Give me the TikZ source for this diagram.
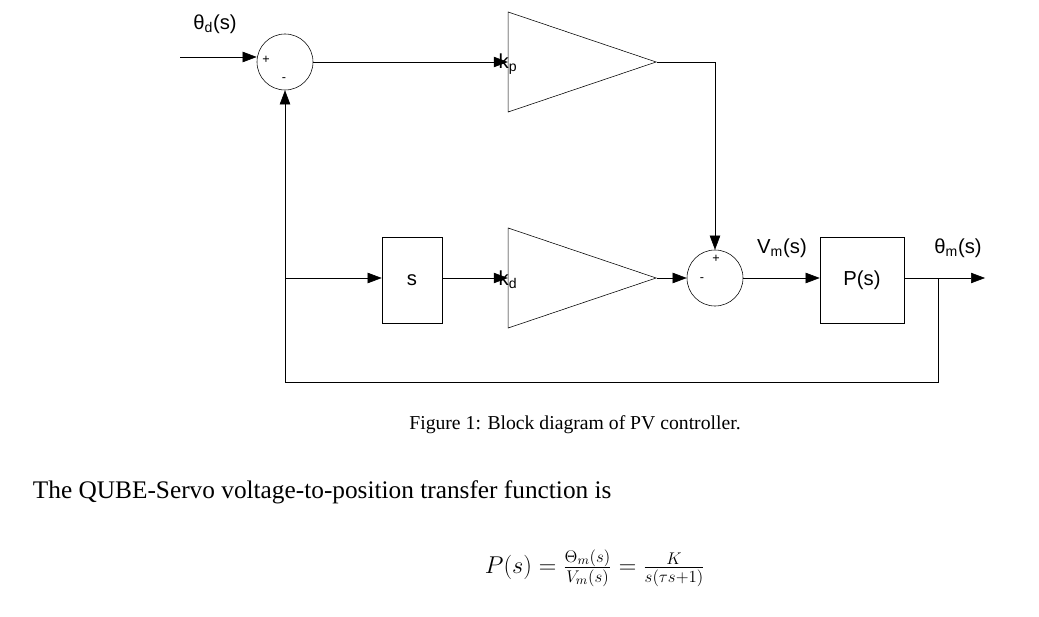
\documentclass[tikz,border=0pt]{standalone}
\usepackage{amsmath}
\usepackage{fontspec}
\setmainfont{Liberation Serif}
\newfontfamily\diagfont{Liberation Sans}
\usetikzlibrary{arrows.meta,shapes.geometric}

\tikzset{
  sumjct/.style={circle,draw,minimum size=1.4cm,inner sep=0pt},
  gain/.style={isosceles triangle,draw,isosceles triangle stretches,minimum width=2.5cm,minimum height=3.7cm,inner sep=0pt},
  blk/.style={rectangle,draw,minimum width=1.5cm,minimum height=2.15cm,font=\diagfont\Large},
  sig/.style={-{Triangle[length=3.5mm,width=2.6mm]}},
  lbl/.style={font=\diagfont\Large}
}

\begin{document}
\begin{tikzpicture}[x=0.025cm,y=-0.025cm]
  \useasboundingbox (0,0) rectangle (1039,617);
  % blocks
  \node[sumjct] (sumA) at (285,62) {};
  \node[sumjct] (sumB) at (715,278) {};
  \node[gain] (kp) at (544,62) {};
  \node[gain] (kd) at (544,278) {};
  \node[lbl] at (508,64) {k\textsubscript{p}};
  \node[lbl] at (508,280) {k\textsubscript{d}};
  \node[blk] (diff) at (412,280) {s};
  \node[blk,minimum width=2.1cm] (plant) at (862,280) {P(s)};
  \coordinate (inp) at (180,57);
  \coordinate (outp) at (985,278);
  \coordinate (tapOut) at (938,278);
  \coordinate (tapIn) at (285,278);
  \coordinate (botR) at (938,382);
  \coordinate (botL) at (285,382);
  % connectors
  \draw[sig] (inp) -- (sumA.west |- inp);
  \draw[sig] (sumA) -- (kp.west);
  \draw[sig] (kp.apex) -| (sumB.north);
  \draw[sig] (tapIn) -- (diff.west |- tapIn);
  \draw[sig] (diff.east |- tapIn) -- (kd.west);
  \draw[sig] (kd.apex) -- (sumB.west);
  \draw[sig] (sumB) -- (plant.west |- sumB);
  \draw[sig] (plant.east |- outp) -- (outp);
  \draw[sig] (tapOut) -- (botR) -- (botL) -- (sumA.south);
  % signs and labels
  \node[font=\diagfont\small] at (266,60) {+};
  \node[font=\diagfont\small] at (284,80) {-};
  \node[font=\diagfont\small] at (716,259) {+};
  \node[font=\diagfont\small] at (702,280) {-};
  \node[lbl] at (215,24) {θ\textsubscript{d}(s)};
  \node[lbl] at (782,248) {V\textsubscript{m}(s)};
  \node[lbl] at (958,248) {θ\textsubscript{m}(s)};
  % text below
  \node[font=\fontsize{14}{16}\selectfont] (cap) at (575,425) {Figure 1: Block diagram of PV controller.};
  \node[anchor=west,font=\fontsize{18}{20}\selectfont] (intro) at (28,492) {The QUBE-Servo voltage-to-position transfer function is};
  \node[font=\fontsize{18}{20}\selectfont] (eqn) at (595,568) {$P(s)=\frac{\Theta_m(s)}{V_m(s)}=\frac{K}{s(\tau s+1)}$};
\end{tikzpicture}
\end{document}
